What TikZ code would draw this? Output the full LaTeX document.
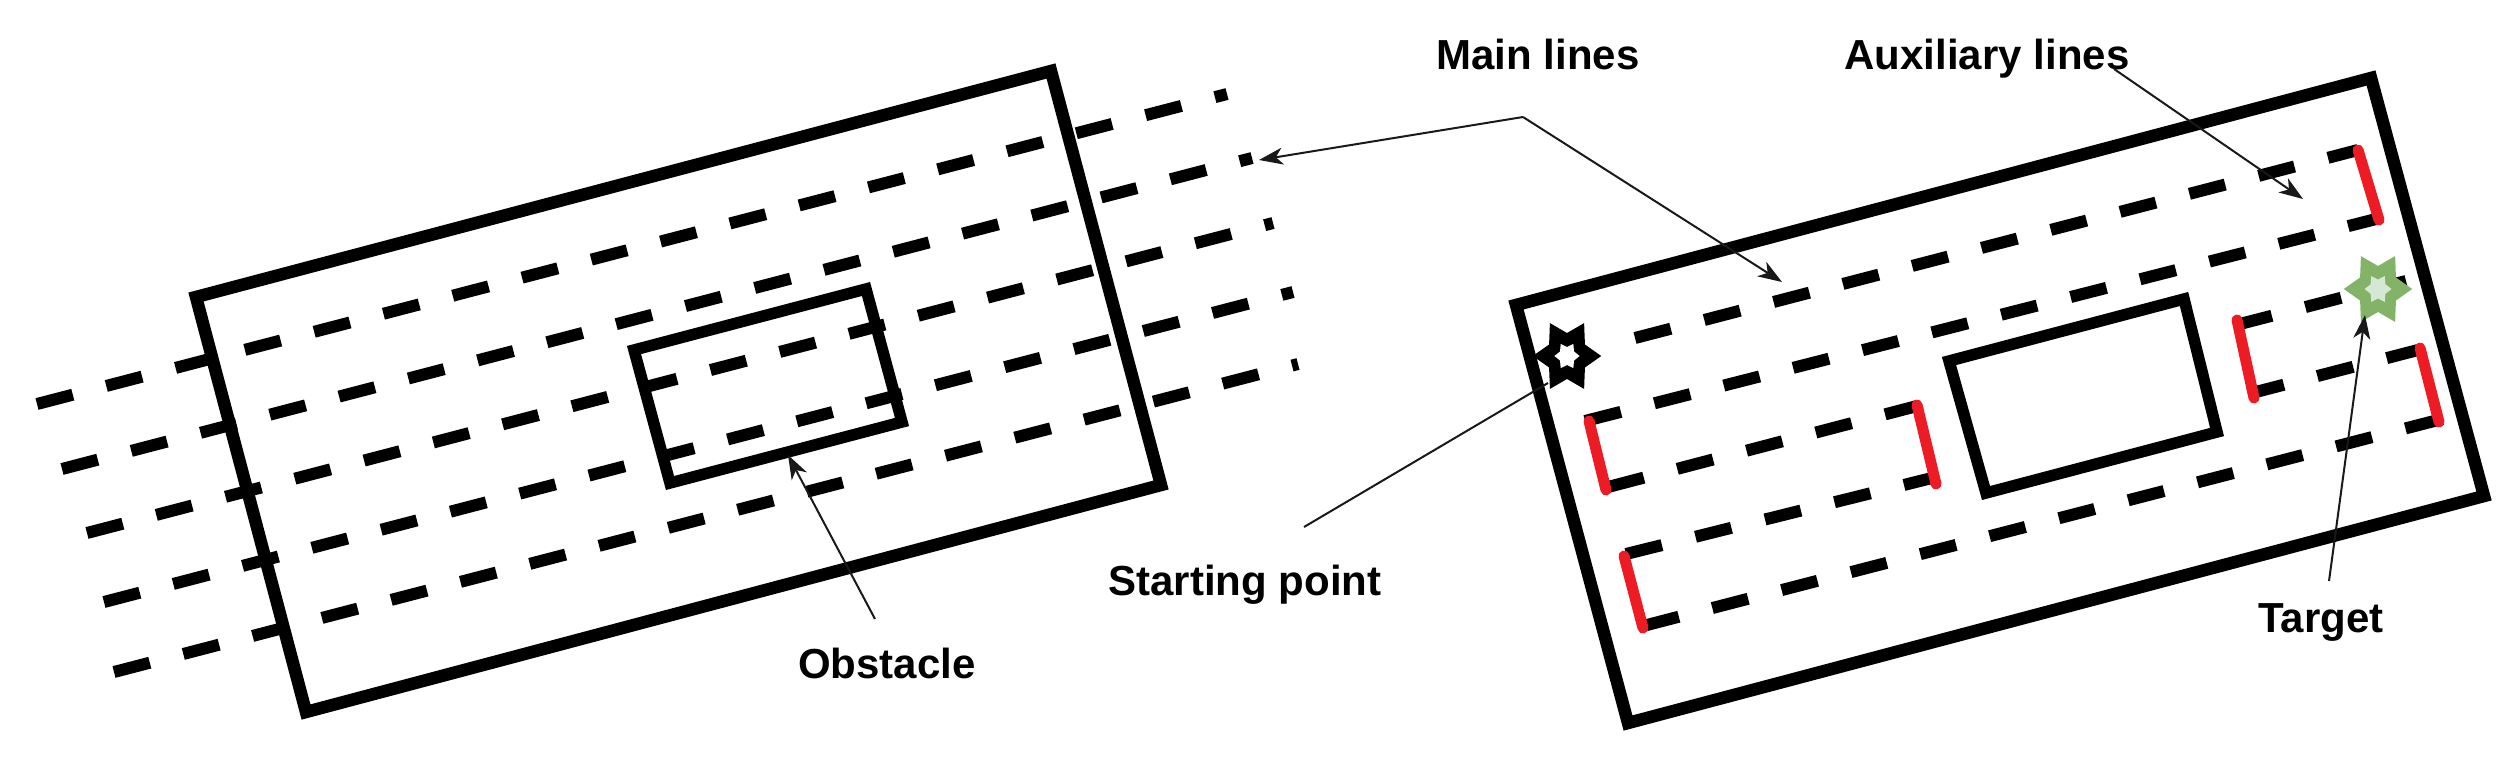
\documentclass[tikz,border=0pt]{standalone}
\usepackage{fontspec}
\setmainfont{Liberation Sans}
\usetikzlibrary{arrows.meta}
\tikzset{
  x=1pt,y=-1pt,
  frame/.style={draw=black,line width=12.5pt,miter limit=10},
  dashline/.style={draw=black,line width=12pt,dash pattern=on 37pt off 34.6pt},
  redline/.style={draw=redc,line width=11pt,line cap=round},
  thinarrow/.style={draw=black!90,line width=2pt,-{Stealth[length=24pt,width=17pt,inset=7pt]}},
  thinline/.style={draw=black!90,line width=2pt},
  lab/.style={anchor=base,inner sep=0pt,font=\fontsize{42}{50}\selectfont\bfseries},
  starblack/.style={fill=black,draw=none},
  stargreen/.style={fill=greenc,draw=none},
}
\definecolor{redc}{HTML}{ED1C24}
\definecolor{greenc}{HTML}{82B366}
\definecolor{greenl}{HTML}{D5E8D4}
\newcommand{\sixstar}[5]{% cx,cy,outer,inner,style (drawn slightly taller than wide)
  \fill[#5] ({#1+0.9*#3*cos(0)},{#2+#3*sin(0)})
  \foreach \k in {0,...,5}{ -- ({#1+0.9*#4*cos(30+60*\k)},{#2+#4*sin(30+60*\k)}) -- ({#1+0.9*#3*cos(60+60*\k)},{#2+#3*sin(60+60*\k)}) } -- cycle;
}
\begin{document}
\begin{tikzpicture}
\useasboundingbox (0,0) rectangle (2515,761);
% left figure
\draw[frame] (196,297) -- (1051,71) -- (1161,485) -- (306,712) -- cycle;
\draw[frame,line width=11.5pt] (634,350) -- (866,289) -- (902,422) -- (670,483) -- cycle;
\coordinate (la1) at (37,404);  \coordinate (lb1) at (1227,94);
\coordinate (la2) at (62,469);  \coordinate (lb2) at (1252,158);
\coordinate (la3) at (87,533);  \coordinate (lb3) at (1273,223);
\coordinate (la4) at (104,602); \coordinate (lb4) at (1293,292);
\coordinate (la5) at (114,672); \coordinate (lb5) at (1298,364);
\foreach \i in {1,...,5}{\draw[dashline] (la\i) -- (lb\i);}
% right figure
\draw[frame] (1516,305) -- (2371,78) -- (2484,496) -- (1628,723) -- cycle;
\draw[frame,line width=11.5pt] (1949,361) -- (2184,299) -- (2217,432) -- (1986,493) -- cycle;
\coordinate (ra1) at (1635,338);  \coordinate (rb1) at (2358,150);
\coordinate (ra2) at (1585,421);  \coordinate (rb2) at (2380,218);
\coordinate (ra3) at (1608,487);  \coordinate (rb3) at (1917,406);
\coordinate (ra4) at (1626,554);  \coordinate (rb4) at (1936,477);
\coordinate (ra5) at (1643,626);  \coordinate (rb5) at (2438,420);
\coordinate (ra6) at (2248,394);  \coordinate (rb6) at (2418,350);
\coordinate (ra7) at (2236,325);  \coordinate (rb7) at (2406,281);
\foreach \i in {1,...,7}{\draw[dashline] (ra\i) -- (rb\i);}
\draw[redline] (2358,150) -- (2379,220);
\draw[redline] (1589,421) -- (1606,490);
\draw[redline] (1917,405) -- (1936,484);
\draw[redline] (1624,556) -- (1643,628);
\draw[redline] (2237,320) -- (2254,398);
\draw[redline] (2420,348) -- (2439,422);
% labels
\node[lab] (main) at (1538,69) {Main lines};
\node[lab] (aux) at (1987,69) {Auxiliary lines};
\node[lab] (start) at (1245,595) {Starting point};
\node[lab] (obst) at (887,678) {Obstacle};
\node[lab] (targ) at (2321,632) {Target};
% connectors
\coordinate (elbow) at (1523,117);
\coordinate (mt1) at (1259,160);
\coordinate (mt2) at (1782,282);
\draw[thinarrow] (elbow) -- (mt1);
\draw[thinarrow] (elbow) -- (mt2);
\coordinate (auxs) at (2114,69); \coordinate (auxt) at (2303,199);
\draw[thinarrow] (auxs) -- (auxt);
\coordinate (sts) at (1304,527); \coordinate (stt) at (1548,383);
\draw[thinline] (sts) -- (stt);
\coordinate (obs) at (875,619); \coordinate (obt) at (788,455);
\draw[thinarrow] (obs) -- (obt);
% stars
\sixstar{1567}{356}{38}{23}{starblack}
\sixstar{1567}{356}{14}{9}{white}
\sixstar{2378}{289}{38}{23}{stargreen}
\sixstar{2378}{289}{15}{9.5}{greenl}
\coordinate (tas) at (2329,581); \coordinate (tat) at (2365,315);
\draw[thinarrow] (tas) -- (tat);
\end{tikzpicture}
\end{document}
